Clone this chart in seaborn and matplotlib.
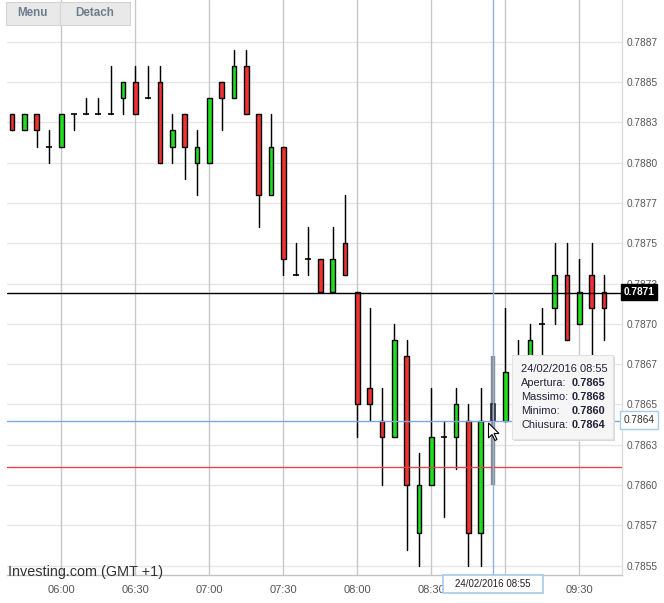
import numpy as np
import pandas as pd
import matplotlib.pyplot as plt
import seaborn as sns
from matplotlib.patches import Rectangle, Polygon

# ==========================================================
# Data (5 minute candles, EUR/GBP style prices)
# ==========================================================
times = ['05:40', '05:45', '05:50', '05:55', '06:00', '06:05', '06:10', '06:15', '06:20', '06:25',
         '06:30', '06:35', '06:40', '06:45', '06:50', '06:55', '07:00', '07:05', '07:10', '07:15',
         '07:20', '07:25', '07:30', '07:35', '07:40', '07:45', '07:50', '07:55', '08:00', '08:05',
         '08:10', '08:15', '08:20', '08:25', '08:30', '08:35', '08:40', '08:45', '08:50', '08:55',
         '09:00', '09:05', '09:10', '09:15', '09:20', '09:25', '09:30', '09:35', '09:40']
opens = [0.7883, 0.7882, 0.7883, 0.7881, 0.7881, 0.7883, 0.7883, 0.7883, 0.7883, 0.7884,
         0.7885, 0.7884, 0.7885, 0.7881, 0.7883, 0.7880, 0.7880, 0.7885, 0.7884, 0.7886,
         0.7883, 0.7878, 0.7881, 0.7873, 0.7874, 0.7874, 0.7872, 0.7875, 0.7872, 0.7866,
         0.7864, 0.7863, 0.7868, 0.7857, 0.7860, 0.7863, 0.7863, 0.7864, 0.7857, 0.7865,
         0.7864, 0.7867, 0.7867, 0.7870, 0.7871, 0.7873, 0.7870, 0.7873, 0.7872]
highs = [0.7883, 0.7883, 0.7883, 0.7882, 0.7883, 0.7883, 0.7884, 0.7884, 0.7886, 0.7885,
         0.7886, 0.7886, 0.7886, 0.7883, 0.7883, 0.7882, 0.7884, 0.7885, 0.7887, 0.7887,
         0.7883, 0.7883, 0.7881, 0.7875, 0.7876, 0.7874, 0.7876, 0.7878, 0.7872, 0.7871,
         0.7866, 0.7870, 0.7869, 0.7862, 0.7866, 0.7864, 0.7866, 0.7865, 0.7866, 0.7868,
         0.7871, 0.7869, 0.7870, 0.7871, 0.7875, 0.7875, 0.7874, 0.7875, 0.7873]
lows = [0.7882, 0.7882, 0.7881, 0.7880, 0.7881, 0.7882, 0.7883, 0.7883, 0.7883, 0.7883,
        0.7883, 0.7884, 0.7880, 0.7880, 0.7879, 0.7878, 0.7880, 0.7882, 0.7884, 0.7883,
        0.7876, 0.7878, 0.7873, 0.7873, 0.7873, 0.7872, 0.7872, 0.7873, 0.7863, 0.7864,
        0.7860, 0.7863, 0.7856, 0.7855, 0.7860, 0.7858, 0.7861, 0.7855, 0.7855, 0.7860,
        0.7864, 0.7865, 0.7867, 0.7868, 0.7870, 0.7869, 0.7870, 0.7866, 0.7869]
closes = [0.7882, 0.7883, 0.7882, 0.7881, 0.7883, 0.7883, 0.7883, 0.7883, 0.7883, 0.7885,
          0.7883, 0.7884, 0.7880, 0.7882, 0.7881, 0.7881, 0.7884, 0.7884, 0.7886, 0.7883,
          0.7878, 0.7881, 0.7874, 0.7873, 0.7874, 0.7872, 0.7874, 0.7873, 0.7865, 0.7865,
          0.7863, 0.7869, 0.7860, 0.7860, 0.7863, 0.7863, 0.7865, 0.7857, 0.7864, 0.7864,
          0.7867, 0.7867, 0.7869, 0.7870, 0.7873, 0.7869, 0.7872, 0.7871, 0.7871]

# y axis grid (0.00025 steps) and the truncated labels shown by the site
ygrid = [0.78875, 0.7885, 0.78825, 0.788, 0.78775, 0.7875, 0.78725, 0.787,
         0.78675, 0.7865, 0.78625, 0.786, 0.78575, 0.7855]
ylabels = ['0.7887', '0.7885', '0.7883', '0.7880', '0.7877', '0.7875', '0.7873', '0.7870',
           '0.7867', '0.7865', '0.7863', '0.7860', '0.7857', '0.7855']
xlabels = ['06:00', '06:30', '07:00', '07:30', '08:00', '08:30', '09:00', '09:30']

last_price = 0.78719
last_label = '0.7871'
cross_price = 0.78640
cross_label = '0.7864'
red_level = 0.78611
hover_time = '08:55'
hover_date = '24/02/2016 08:55'
hover_names = ['Apertura:', 'Massimo:', 'Minimo:', 'Chiusura:']

df = pd.DataFrame({'time': times, 'open': opens, 'high': highs, 'low': lows, 'close': closes})
df['i'] = np.arange(len(df))
hi = times.index(hover_time)

# ==========================================================
# Style
# ==========================================================
sns.set_style("white")
plt.rcParams['font.family'] = ['Liberation Sans', 'DejaVu Sans']

W, H = 664, 603
fig = plt.figure(figsize=(W / 100, H / 100), dpi=100)
ax = fig.add_axes([7 / W, 1 - 575 / H, 615 / W, 575 / H])

def fx(px):
    return px / W

def fy(py):
    return 1 - py / H

RED = '#f03232'
GREEN = '#22dd22'

# grid
for g in ygrid:
    ax.axhline(g, color='#e6e6e6', lw=1.0, zorder=0)
xpos = [times.index(t) for t in xlabels]
for x in xpos:
    ax.axvline(x, color='#c8c8c8', lw=1.0, zorder=0)

# wicks with seaborn (one line per candle)
wk = df[df['i'] != hi]
wick_df = pd.concat([wk[['i', 'low']].rename(columns={'low': 'price'}),
                     wk[['i', 'high']].rename(columns={'high': 'price'})])
sns.lineplot(data=wick_df, x='i', y='price', units='i', estimator=None,
             color='black', lw=1.05, legend=False, ax=ax, zorder=2)

# bodies
bw = 0.38
for _, r in wk.iterrows():
    if r['close'] == r['open']:
        ax.hlines(r['close'], r['i'] - bw / 2 - 0.05, r['i'] + bw / 2 + 0.05,
                  color='black', lw=1.2, zorder=3)
        continue
    col = GREEN if r['close'] > r['open'] else RED
    lo = min(r['open'], r['close'])
    ax.bar(r['i'], abs(r['close'] - r['open']), bottom=lo, width=bw,
           color=col, edgecolor='black', linewidth=1.0, zorder=3)

# hovered candle drawn in grey
h = df.iloc[hi]
ax.vlines(hi, h['low'], h['high'], color='#8c8c8c', lw=3.2, zorder=4)
ax.bar(hi, abs(h['close'] - h['open']), bottom=min(h['open'], h['close']), width=bw,
       color='#6a6a6a', edgecolor='#1a1a1a', linewidth=1.1, zorder=5)

# level lines
ax.axhline(last_price, color='black', lw=1.0, zorder=6)
ax.axhline(cross_price, color='#7ea7dd', lw=1.0, zorder=6)
ax.axhline(red_level, color='#e04848', lw=1.0, zorder=6)
ax.axvline(hi, color='#8fb0e0', lw=1.0, zorder=6)

# axes
ax.set_xlim(-0.405, 49.46)
ax.set_ylim(0.785442, 0.789009)
ax.set_yticks(ygrid)
ax.set_yticklabels(ylabels)
ax.yaxis.tick_right()
ax.set_xticks(xpos)
ax.set_xticklabels(xlabels)
ax.tick_params(axis='y', length=0, pad=3, labelsize=7.3, labelcolor='#555555')
ax.tick_params(axis='x', length=0, pad=7, labelsize=8, labelcolor='#555555')
ax.set_xlabel('')
ax.set_ylabel('')
for s in ['top', 'left']:
    ax.spines[s].set_visible(False)
ax.spines['right'].set_color('#dcdcdc')
ax.spines['bottom'].set_color('#c4c4c4')
ax.spines['right'].set_linewidth(1.0)
ax.spines['bottom'].set_linewidth(1.0)

# right side price boxes
fig.text(fx(639), fy(292), last_label, ha='center', va='center', fontsize=7.3,
         fontweight='bold', color='white',
         bbox=dict(boxstyle='square,pad=0.25', fc='black', ec='black'))
fig.text(fx(639), fy(420), cross_label, ha='center', va='center', fontsize=7.3,
         color='#333333',
         bbox=dict(boxstyle='square,pad=0.35', fc='white', ec='#a8cdea', lw=1.0))

# tooltip
fig.add_artist(Rectangle((fx(514), fy(441)), 101 / W, 84 / H, transform=fig.transFigure,
                         fc='#d8d8d8', ec='none', zorder=9))
fig.add_artist(Rectangle((fx(512), fy(439)), 101 / W, 84 / H, transform=fig.transFigure,
                         fc='#f6f6f6', ec='#e2e2e2', lw=0.8, zorder=10))
fig.text(fx(521), fy(369), hover_date, ha='left', va='center', fontsize=8,
         color='#22223a', zorder=11)
hover_vals = [h['open'], h['high'], h['low'], h['close']]
for k, (nm, v) in enumerate(zip(hover_names, hover_vals)):
    yy = 383 + 14 * k
    fig.text(fx(521), fy(yy), nm, ha='left', va='center', fontsize=7.9,
             color='#22223a', zorder=11)
    fig.text(fx(572), fy(yy), f'{v:.4f}', ha='left', va='center', fontsize=7.9,
             fontweight='bold', color='#22223a', zorder=11)

# mouse cursor
tip = (488.5, 423)
shape = [(0, 0), (0, 15), (3.5, 11.5), (6.5, 17.5), (8.5, 16.5), (5.5, 10.5), (10.5, 10.5)]
fig.add_artist(Polygon([(fx(tip[0] + a), fy(tip[1] + b)) for a, b in shape], closed=True,
                       transform=fig.transFigure, fc='white', ec='black', lw=0.8, zorder=12))

# bottom date box for the crosshair
fig.add_artist(Rectangle((fx(443), fy(593)), 100 / W, 18 / H, transform=fig.transFigure,
                         fc='white', ec='#a9cbe9', lw=1.2, zorder=10))
fig.text(fx(493), fy(584), hover_date, ha='center', va='center', fontsize=7,
         color='#222222', zorder=11)

# watermark
fig.text(fx(8), fy(576), 'Investing.com (GMT +1)', ha='left', va='baseline',
         fontsize=10.4, color='#333333', zorder=11)

# Menu / Detach buttons
for x0, w, lab in [(6, 54, 'Menu'), (60, 70, 'Detach')]:
    fig.add_artist(Rectangle((fx(x0), fy(25)), w / W, 23 / H, transform=fig.transFigure,
                             fc='#e9e9e9', ec='#d4d4d4', lw=0.8, zorder=10))
    fig.text(fx(x0 + w / 2), fy(12.5), lab, ha='center', va='center', fontsize=8.4,
             fontweight='bold', color='#6f7d8c', zorder=11)

plt.savefig('out.png', dpi=100)
